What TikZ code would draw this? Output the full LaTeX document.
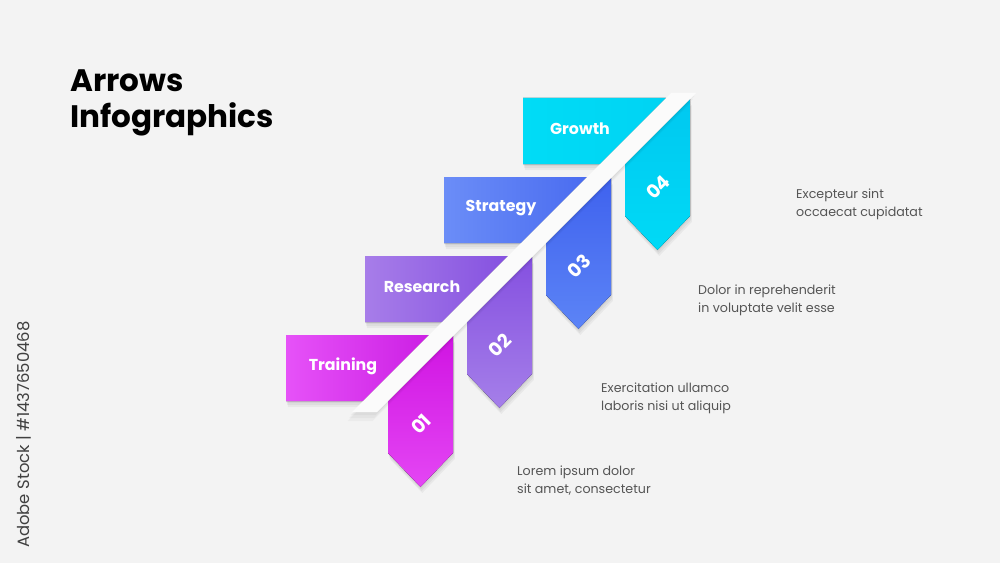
\documentclass[tikz,border=0pt]{standalone}
\usepackage{fontspec}
\setmainfont{Poppins}
\begin{document}
\begin{tikzpicture}[x=0.03cm,y=-0.03cm,
  lbl/.style={text=white,font=\fontsize{13.5}{15}\selectfont\bfseries,anchor=center,inner sep=0pt},
  num/.style={text=white,font=\fontsize{16}{17}\selectfont\bfseries,anchor=center,rotate=45,inner sep=0pt},
  body/.style={text=txtgray,font=\fontsize{10.8}{15.2}\selectfont,anchor=north west,align=left,inner sep=0pt},
  shade/.style={fill=black,opacity=0.045}]
\definecolor{bg}{HTML}{F3F3F3}
\definecolor{txtgray}{HTML}{555555}
\definecolor{aL}{HTML}{E652F8}\definecolor{aR}{HTML}{CC1FE4}
\definecolor{aT}{HTML}{D014E2}\definecolor{aB}{HTML}{E446F4}
\definecolor{bL}{HTML}{A77DE9}\definecolor{bR}{HTML}{8551E0}
\definecolor{bT}{HTML}{8550E0}\definecolor{bB}{HTML}{A57FE9}
\definecolor{cL}{HTML}{6B8DF7}\definecolor{cR}{HTML}{4A6CF0}
\definecolor{cT}{HTML}{3F62EE}\definecolor{cB}{HTML}{5C84F6}
\definecolor{dL}{HTML}{00DCF6}\definecolor{dR}{HTML}{00D3F3}
\definecolor{dT}{HTML}{00C8F0}\definecolor{dB}{HTML}{00DAF6}
\fill[bg] (0,0) rectangle (1000,563);
\useasboundingbox (0,0) rectangle (1000,563);
% title
\node[anchor=base west,inner sep=0pt,font=\fontsize{26.5}{30}\selectfont\bfseries] (t1) at (70,92) {Arrows};
\node[anchor=base west,inner sep=0pt,font=\fontsize{26.5}{30}\selectfont\bfseries] (t2) at (70,128) {Infographics};
% side text
\node[rotate=90,anchor=base west,inner sep=0pt,text=black!75,font=\fontsize{14}{16}\selectfont] (side) at (29,548) {Adobe Stock | \#1437650468};
% steps
\foreach \k/\L/\R/\T/\B/\name/\lab in {0/aL/aR/aT/aB/Training/01,1/bL/bR/bT/bB/Research/02,2/cL/cR/cT/cB/Strategy/03,3/dL/dR/dT/dB/Growth/04}{
  \begin{scope}[shift={(79*\k,-79*\k)}]
    % soft shadows
    \foreach \s in {2,4,6}{
      \fill[shade] (286+\s*0.3,335+\s) -- (429+\s*0.3,335+\s) -- (363+\s*0.3,401+\s) -- (286+\s*0.3,401+\s) -- cycle;
      \fill[shade] (388+\s*0.3,401+\s) -- (453+\s*0.3,336+\s) -- (453+\s*0.3,453+\s) -- (420.5+\s*0.3,487+\s) -- (388+\s*0.3,453+\s) -- cycle;
    }
    \fill[left color=\L,right color=\R] (286,335) -- (429,335) -- (363,401) -- (286,401) -- cycle;
    \fill[top color=\T,bottom color=\B] (388,401) -- (453,336) -- (453,453) -- (420.5,487) -- (388,453) -- cycle;
    \node[lbl] (lab\k) at (343,366) {\name};
    \node[num] (num\k) at (421,424) {\lab};
  \end{scope}
}
% diagonal band
\foreach \s in {3,6,9}{
  \fill[black,opacity=0.03] (671-\s*0.5,93+\s) -- (696-\s*0.5,93+\s) -- (377-\s*0.5,412+\s) -- (352-\s*0.5,412+\s) -- cycle;
}
\fill[white!70!bg] (671,93) -- (696,93) -- (377,412) -- (352,412) -- cycle;
% descriptions
\node[body] (d1) at (517,466) {Lorem ipsum dolor\\sit amet, consectetur};
\node[body] (d2) at (601,383) {Exercitation ullamco\\laboris nisi ut aliquip};
\node[body] (d3) at (698,285) {Dolor in reprehenderit\\in voluptate velit esse};
\node[body] (d4) at (796,189) {Excepteur sint\\occaecat cupidatat};
\end{tikzpicture}
\end{document}
